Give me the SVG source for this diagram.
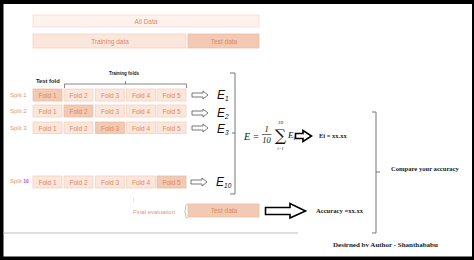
<svg xmlns="http://www.w3.org/2000/svg" xmlns:xlink="http://www.w3.org/1999/xlink" width="474" height="260" viewBox="0 0 474 260">
<style>
.box{fill:#fbe6dc;stroke:#f4d2c1;stroke-width:0.8}
.hi{fill:#f2c9b2;stroke:#ecbfa6;stroke-width:0.8}
.lt{fill:#fdf2ec;stroke:#f6dccf;stroke-width:0.8}
.t{font-family:"Liberation Sans",Arial,sans-serif;font-size:6.5px;fill:#d98a66;text-anchor:middle;dominant-baseline:central}
.sp{font-family:"Liberation Sans",Arial,sans-serif;font-size:6px;fill:#e0966c;dominant-baseline:central}
.e{font-family:"Liberation Sans",Arial,sans-serif;font-style:italic;font-size:12px;fill:#111}
.sub{font-size:6.5px}
.m{font-family:"Liberation Serif","Times New Roman",serif;font-style:italic;fill:#111}
.s{font-family:"Liberation Serif","Times New Roman",serif;font-weight:bold;fill:#222}
.br{fill:none;stroke:#777;stroke-width:1}
.ha{fill:#fff;stroke:#555;stroke-width:0.8}
.ba{fill:#fff;stroke:#000;stroke-width:1.6}
</style>
<defs>
<polygon id="sa" class="ha" points="0,-2 11,-2 11,-4 16,0 11,4 11,2 0,2"/>
</defs>
<rect x="0" y="0" width="474" height="260" fill="#000"/>
<rect x="3.5" y="4" width="468.5" height="252.5" fill="#fff"/>
<line x1="3.5" y1="233" x2="298" y2="233" stroke="#bdbdbd" stroke-width="1.2"/>

<g id="all-data"><rect class="lt" x="33" y="15" width="226" height="12"/><text class="t" x="146" y="21">All Data</text></g>
<g id="training-data"><rect class="box" x="33" y="34" width="153" height="14"/><text class="t" x="110" y="41">Training data</text></g>
<g id="test-data"><rect class="hi" x="188" y="34" width="71" height="14"/><text class="t" x="224" y="41">Test data</text></g>

<g id="headers">
<text x="36" y="81" font-family="'Liberation Sans',Arial,sans-serif" font-size="5.8" font-weight="bold" fill="#222" dominant-baseline="central">Test fold</text>
<text x="124" y="73" font-family="'Liberation Sans',Arial,sans-serif" font-size="4.6" font-weight="bold" fill="#222" text-anchor="middle" dominant-baseline="central">Training folds</text>
<path d="M64.5,88 V84 H186.5 V88 M125.5,84 V81" fill="none" stroke="#555" stroke-width="0.7"/>
</g>

<g id="split1">
<text class="sp" x="10" y="95">Split 1</text>
<rect class="hi" x="33" y="89" width="29" height="12"/><text class="t" x="47.5" y="95">Fold 1</text>
<rect class="box" x="64" y="89" width="29" height="12"/><text class="t" x="78.5" y="95">Fold 2</text>
<rect class="box" x="95.5" y="89" width="29" height="12"/><text class="t" x="110" y="95">Fold 3</text>
<rect class="box" x="126.5" y="89" width="29" height="12"/><text class="t" x="141" y="95">Fold 4</text>
<rect class="box" x="157" y="89" width="29" height="12"/><text class="t" x="171.5" y="95">Fold 5</text>
</g>
<g id="split2">
<text class="sp" x="10" y="111">Split 2</text>
<rect class="box" x="33" y="105" width="29" height="12"/><text class="t" x="47.5" y="111">Fold 1</text>
<rect class="hi" x="64" y="105" width="29" height="12"/><text class="t" x="78.5" y="111">Fold 2</text>
<rect class="box" x="95.5" y="105" width="29" height="12"/><text class="t" x="110" y="111">Fold 3</text>
<rect class="box" x="126.5" y="105" width="29" height="12"/><text class="t" x="141" y="111">Fold 4</text>
<rect class="box" x="157" y="105" width="29" height="12"/><text class="t" x="171.5" y="111">Fold 5</text>
</g>
<g id="split3">
<text class="sp" x="10" y="127.5">Split 3</text>
<rect class="box" x="33" y="122" width="29" height="11.5"/><text class="t" x="47.5" y="128">Fold 1</text>
<rect class="box" x="64" y="122" width="29" height="11.5"/><text class="t" x="78.5" y="128">Fold 2</text>
<rect class="hi" x="95.5" y="122" width="29" height="11.5"/><text class="t" x="110" y="128">Fold 3</text>
<rect class="box" x="126.5" y="122" width="29" height="11.5"/><text class="t" x="141" y="128">Fold 4</text>
<rect class="box" x="157" y="122" width="29" height="11.5"/><text class="t" x="171.5" y="128">Fold 5</text>
</g>
<g id="split10">
<text class="sp" x="10" y="181">Split <tspan fill="#b84ee6" font-size="5" font-weight="bold">10</tspan></text>
<rect class="box" x="33" y="176" width="29" height="12"/><text class="t" x="47.5" y="182">Fold 1</text>
<rect class="box" x="64" y="176" width="29" height="12"/><text class="t" x="78.5" y="182">Fold 2</text>
<rect class="box" x="95.5" y="176" width="29" height="12"/><text class="t" x="110" y="182">Fold 3</text>
<rect class="box" x="126.5" y="176" width="29" height="12"/><text class="t" x="141" y="182">Fold 4</text>
<rect class="hi" x="157" y="176" width="29" height="12"/><text class="t" x="171.5" y="182">Fold 5</text>
</g>

<g id="errors">
<text class="e" x="217" y="99">E<tspan class="sub" dy="2">1</tspan></text>
<text class="e" x="217" y="117">E<tspan class="sub" dy="2">2</tspan></text>
<text class="e" x="217" y="133">E<tspan class="sub" dy="2">3</tspan></text>
<text class="e" x="216" y="186">E<tspan class="sub" dy="2">10</tspan></text>
</g>

<g id="formula">
<text class="m" x="244" y="139.5" font-size="10">E</text>
<text class="m" x="252.5" y="139.5" font-size="10" font-style="normal">=</text>
<text class="m" x="266.5" y="131.5" font-size="8.5" font-style="normal" text-anchor="middle">1</text>
<line x1="262" y1="134.5" x2="271.5" y2="134.5" stroke="#111" stroke-width="0.6"/>
<text class="m" x="266.5" y="142.5" font-size="8.5" font-style="normal" text-anchor="middle">10</text>
<text x="280.5" y="141" font-family="'DejaVu Serif',serif" font-size="16" fill="#111" text-anchor="middle">∑</text>
<text class="m" x="280.5" y="123.5" font-size="5" font-style="normal" text-anchor="middle">10</text>
<text class="m" x="280.5" y="150" font-size="4.5" font-style="normal" text-anchor="middle">i=1</text>
<text class="m" x="288" y="138" font-size="9">E<tspan font-size="5.5" font-style="normal" dy="1.5">i</tspan></text>
</g>

<g id="results">
<text class="s" x="319" y="138" font-size="6.5">Ei = xx.xx</text>
<text class="s" x="316" y="213" font-size="6.6">Accuracy =xx.xx</text>
<text class="s" x="391" y="171" font-size="6.6">Compare your accuracy</text>
<text class="s" x="333" y="246.5" font-size="7">Desirned bv Author - Shanthababu</text>
</g>

<g id="final-eval">
<text x="133" y="212" font-family="'Liberation Sans',Arial,sans-serif" font-size="6" fill="#e0966c" dominant-baseline="central">Final evaluation</text>
<path d="M188,204 Q185,204 185.5,208 L185.5,210 Q185.5,211 184,211.5 Q185.5,212 185.5,213 L185.5,215 Q185,218 188,218" fill="none" stroke="#e0b090" stroke-width="0.8"/>
<rect class="hi" x="188" y="204" width="71" height="13"/><text class="t" x="224" y="210.5">Test data</text>
</g>

<g id="connectors">
<use xlink:href="#sa" x="192" y="95"/>
<use xlink:href="#sa" x="192" y="113"/>
<use xlink:href="#sa" x="192" y="128"/>
<use xlink:href="#sa" x="191" y="182"/>
<path class="br" d="M230,73 H235 V194 H230 M235,133 H232"/>
<path class="br" d="M372,112 H376 V233 H372 M376,172 H380"/>
<polygon class="ba" points="295.5,133.5 303,133.5 303,130.5 311.5,136 303,141.5 303,138.5 295.5,138.5"/>
<polygon class="ba" points="265.5,207.5 290,207.5 290,203.5 305.5,211 290,218 290,214.5 265.5,214.5"/>
<line x1="133.5" y1="198" x2="133.5" y2="202" stroke="#ccc" stroke-width="0.6"/>
</g>
</svg>
